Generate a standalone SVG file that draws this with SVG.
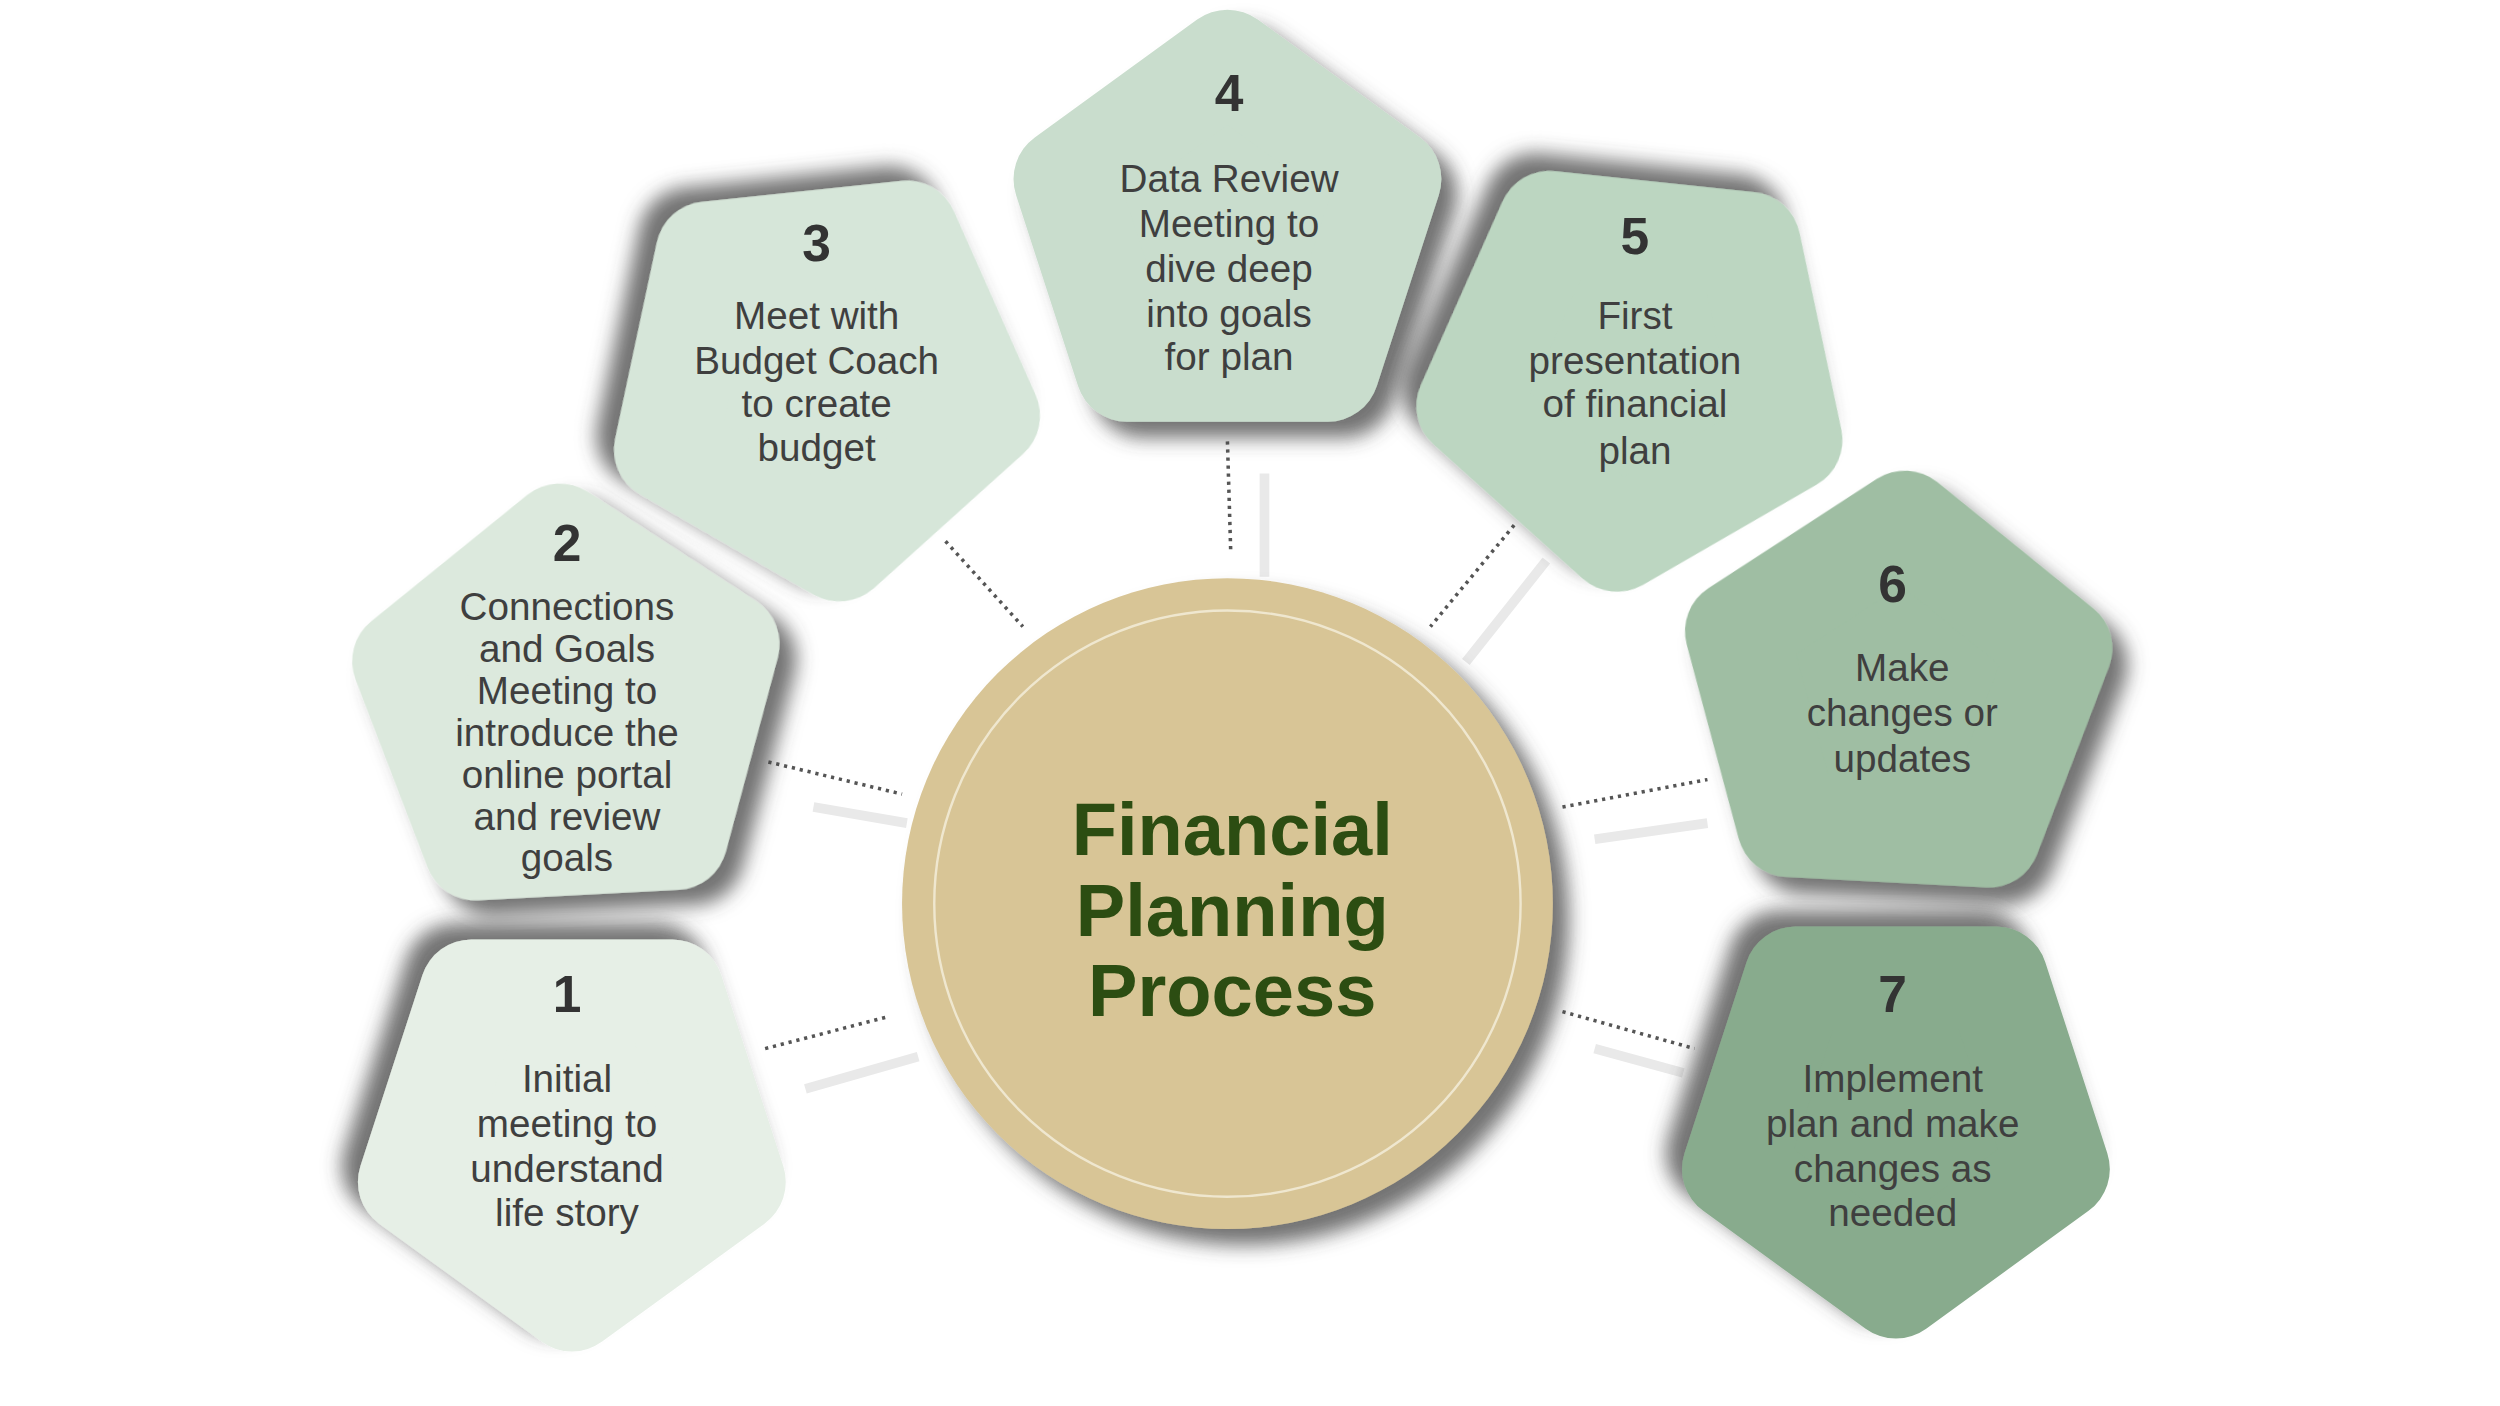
<svg xmlns="http://www.w3.org/2000/svg" width="2500" height="1406" viewBox="0 0 2500 1406">
<style>
.num{font-family:"Liberation Sans",Arial,sans-serif;font-weight:bold;font-size:32px;fill:#333;text-anchor:middle}
.t{font-family:"Liberation Sans",Arial,sans-serif;font-size:24px;fill:#3f3f3f;text-anchor:middle}
.c{font-family:"Liberation Sans",Arial,sans-serif;font-weight:bold;font-size:46px;fill:#2c4d12;text-anchor:middle}
.dot{stroke:#555;stroke-width:2.2;stroke-dasharray:2 3;fill:none}
.sh{stroke:#e9e9e9;stroke-width:6;fill:none}
.p{stroke-width:64;stroke-linejoin:round;filter:url(#ds)}
</style>
<defs>
<filter id="ds" x="-30%" y="-30%" width="160%" height="160%"><feDropShadow dx="10" dy="10" stdDeviation="6" flood-color="#444" flood-opacity="0.75"/></filter>
<polygon id="pent" points="0,-106 100.8,-32.8 62.3,85.8 -62.3,85.8 -100.8,-32.8"/>
</defs>
<rect width="2500" height="1406" fill="#fff"/>
<g transform="scale(1.6108) translate(-5,-4)">
<g id="connectors">
<line class="sh" x1="505" y1="680" x2="575" y2="660"/>
<line class="sh" x1="510" y1="505" x2="568" y2="515"/>
<line class="sh" x1="790" y1="298" x2="790" y2="362"/>
<line class="sh" x1="965" y1="352" x2="915" y2="415"/>
<line class="sh" x1="995" y1="525" x2="1065" y2="515"/>
<line class="sh" x1="995" y1="655" x2="1050" y2="670"/>
<line class="dot" x1="480" y1="655" x2="557" y2="635"/>
<line class="dot" x1="482" y1="477" x2="565" y2="497"/>
<line class="dot" x1="592" y1="340" x2="640" y2="393"/>
<line class="dot" x1="767" y1="278" x2="769" y2="345"/>
<line class="dot" x1="945" y1="330" x2="893" y2="393"/>
<line class="dot" x1="975" y1="505" x2="1065" y2="488"/>
<line class="dot" x1="975" y1="632" x2="1057" y2="655"/>
</g>
<g id="center">
<circle cx="767" cy="565" r="202" fill="#d8c596" filter="url(#ds)"/>
<circle cx="767" cy="565" r="182" fill="none" stroke="#efe7cf" stroke-width="1.5"/>
<text class="c" x="770" y="535">Financial</text>
<text class="c" x="770" y="585">Planning</text>
<text class="c" x="770" y="635">Process</text>
</g>
<g id="n1">
<use href="#pent" class="p" fill="#e6efe6" stroke="#e6efe6" transform="translate(360,705) rotate(180)"/>
<text class="num" x="357" y="632">1</text>
<text class="t" x="357" y="682">Initial</text><text class="t" x="357" y="710">meeting to</text><text class="t" x="357" y="738">understand</text><text class="t" x="357" y="765">life story</text>
</g>
<g id="n2">
<use href="#pent" class="p" fill="#dce9dd" stroke="#dce9dd" transform="translate(358,442) rotate(-3)"/>
<text class="num" x="357" y="352">2</text>
<text class="t" x="357" y="389">Connections</text><text class="t" x="357" y="415">and Goals</text><text class="t" x="357" y="441">Meeting to</text><text class="t" x="357" y="467">introduce the</text><text class="t" x="357" y="493">online portal</text><text class="t" x="357" y="519">and review</text><text class="t" x="357" y="545">goals</text>
</g>
<g id="n3">
<use href="#pent" class="p" fill="#d6e6d9" stroke="#d6e6d9" transform="translate(515,240) rotate(174)"/>
<text class="num" x="512" y="166">3</text>
<text class="t" x="512" y="208">Meet with</text><text class="t" x="512" y="236">Budget Coach</text><text class="t" x="512" y="263">to create</text><text class="t" x="512" y="290">budget</text>
</g>
<g id="n4">
<use href="#pent" class="p" fill="#c9ddcd" stroke="#c9ddcd" transform="translate(767,148)"/>
<text class="num" x="768" y="73">4</text>
<text class="t" x="768" y="123">Data Review</text><text class="t" x="768" y="151">Meeting to</text><text class="t" x="768" y="179">dive deep</text><text class="t" x="768" y="207">into goals</text><text class="t" x="768" y="234">for plan</text>
</g>
<g id="n5">
<use href="#pent" class="p" fill="#bcd6c1" stroke="#bcd6c1" transform="translate(1020,234) rotate(186)"/>
<text class="num" x="1020" y="162">5</text>
<text class="t" x="1020" y="208">First</text><text class="t" x="1020" y="236">presentation</text><text class="t" x="1020" y="263">of financial</text><text class="t" x="1020" y="292">plan</text>
</g>
<g id="n6">
<use href="#pent" class="p" fill="#9fbea3" stroke="#9fbea3" transform="translate(1182,434) rotate(3)"/>
<text class="num" x="1180" y="378">6</text>
<text class="t" x="1186" y="427">Make</text><text class="t" x="1186" y="455">changes or</text><text class="t" x="1186" y="483">updates</text>
</g>
<g id="n7">
<use href="#pent" class="p" fill="#88ab8d" stroke="#88ab8d" transform="translate(1182,697) rotate(180)"/>
<text class="num" x="1180" y="632">7</text>
<text class="t" x="1180" y="682">Implement</text><text class="t" x="1180" y="710">plan and make</text><text class="t" x="1180" y="738">changes as</text><text class="t" x="1180" y="765">needed</text>
</g>
</g>
</svg>
